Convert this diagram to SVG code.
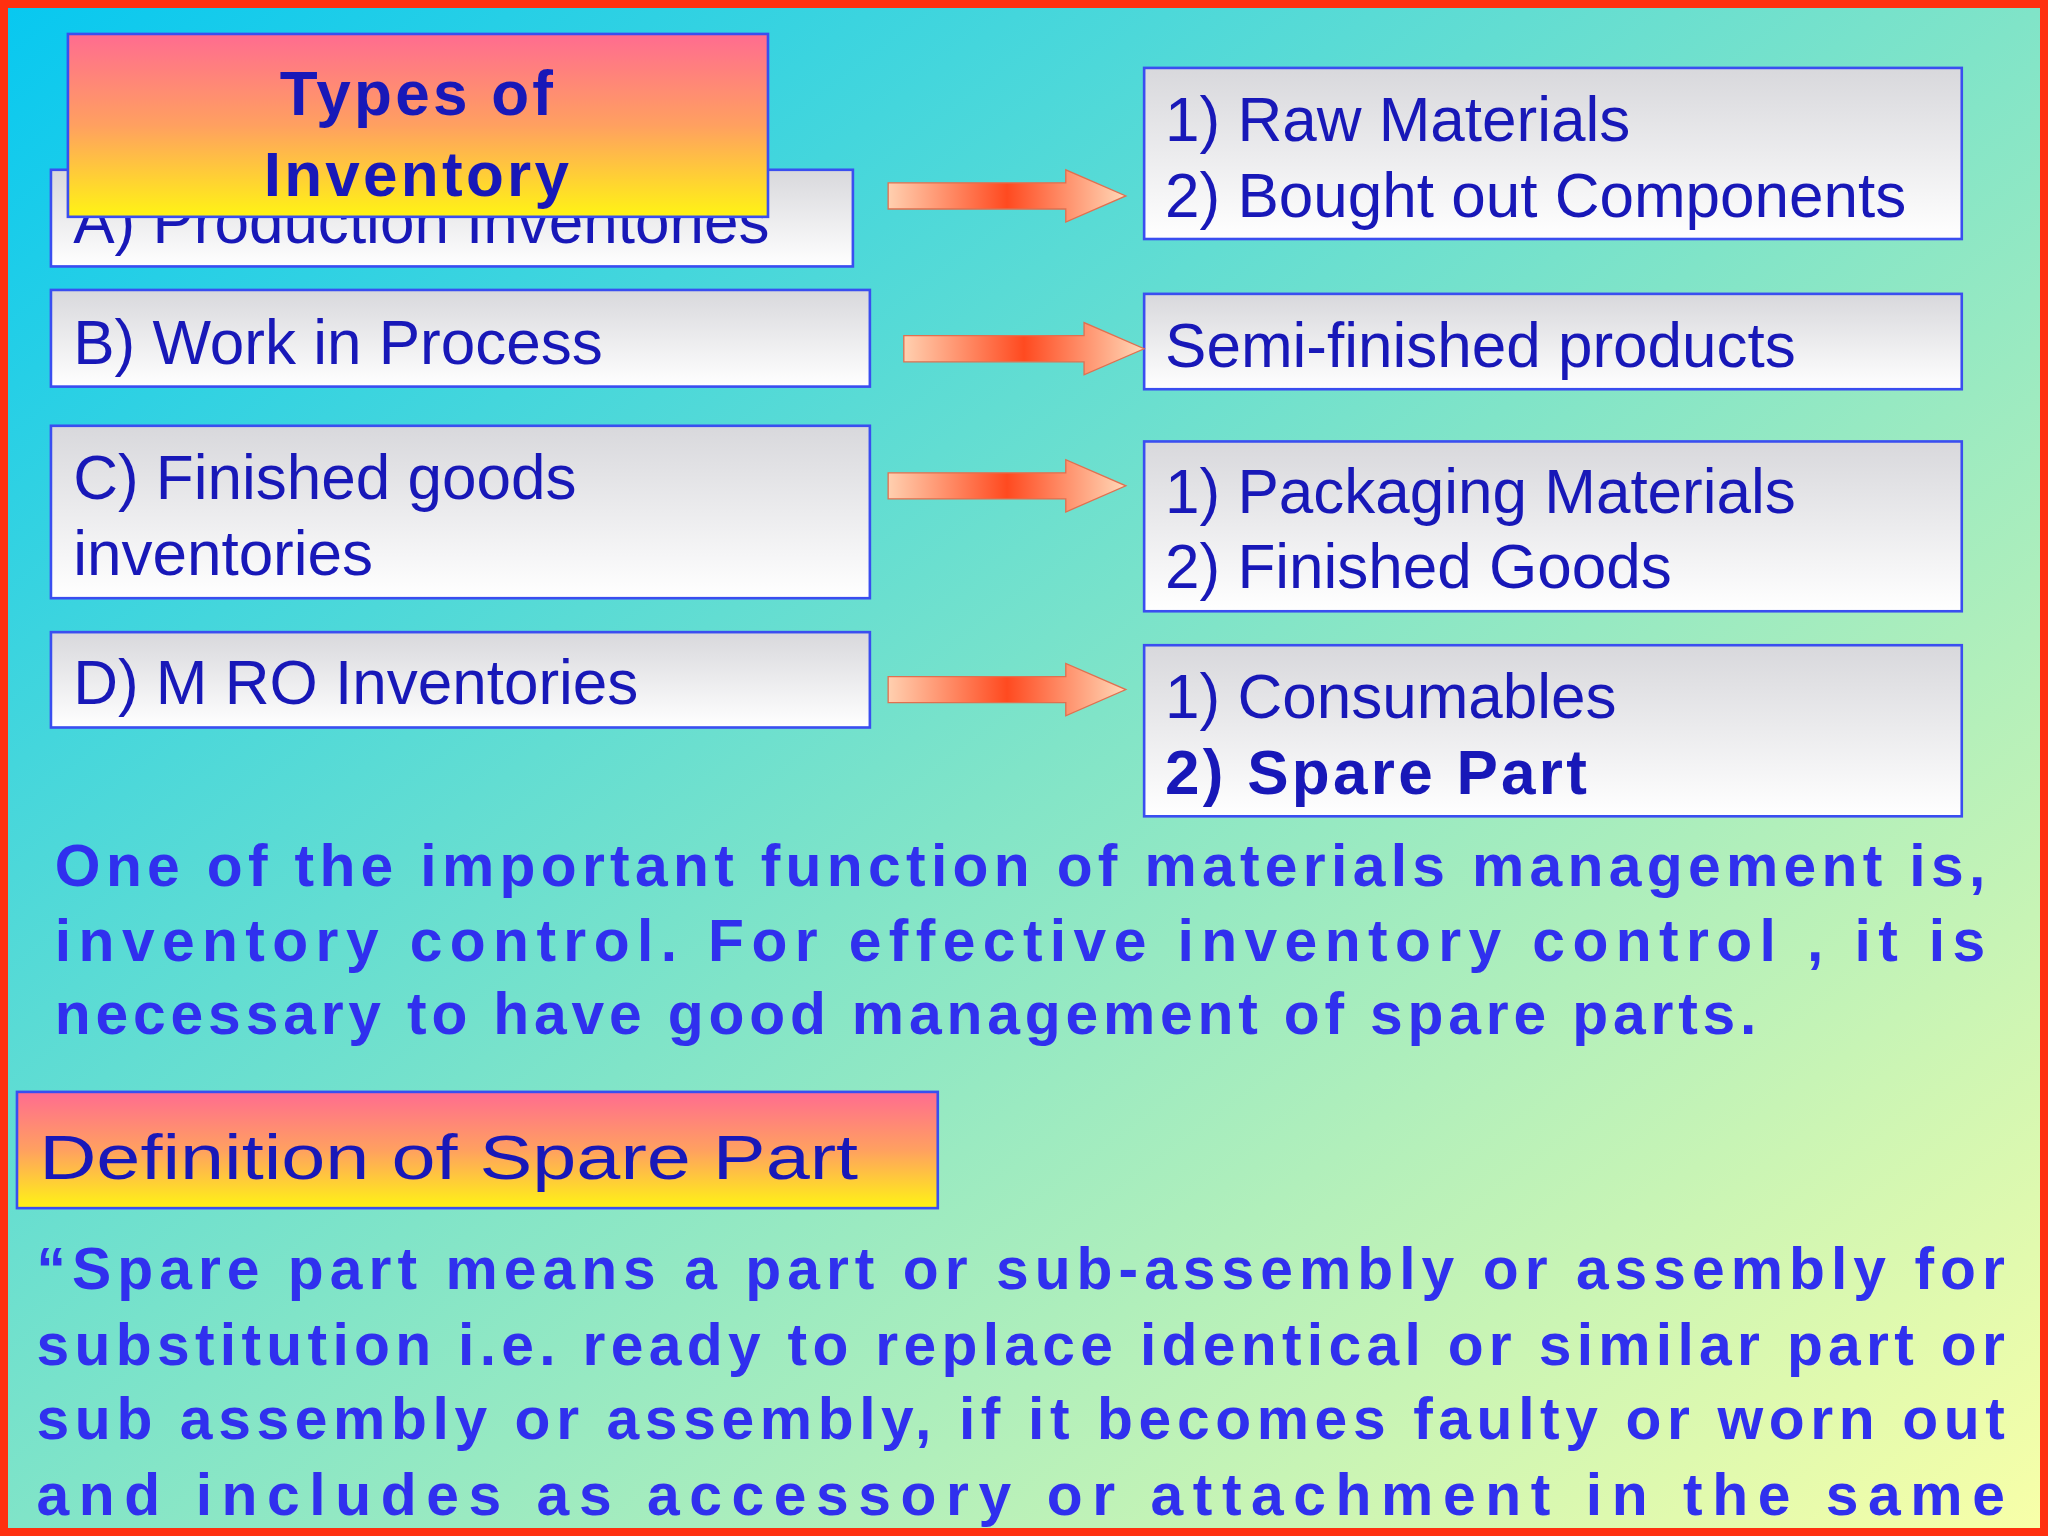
<svg xmlns="http://www.w3.org/2000/svg" width="2048" height="1536" viewBox="0 0 2048 1536">
<defs>
<linearGradient id="bg" x1="0" y1="0" x2="1" y2="1"><stop offset="0" stop-color="#08c8f0"/><stop offset="0.5" stop-color="#80e4c8"/><stop offset="1" stop-color="#f8ffa8"/></linearGradient>
<linearGradient id="hdr" x1="0" y1="0" x2="0" y2="1"><stop offset="0" stop-color="#ff6c90"/><stop offset="0.5" stop-color="#ffa060"/><stop offset="1" stop-color="#fff414"/></linearGradient>
<linearGradient id="box" x1="0" y1="0" x2="0" y2="1"><stop offset="0" stop-color="#d8d8dc"/><stop offset="1" stop-color="#ffffff"/></linearGradient>
<linearGradient id="arr" x1="0" y1="0" x2="1" y2="0"><stop offset="0" stop-color="#ffd0b0"/><stop offset="0.5" stop-color="#ff4a20"/><stop offset="1" stop-color="#ffd8b8"/></linearGradient>
<style>
.bx{fill:url(#box);stroke:#3a4ef0;stroke-width:2}
.hd{fill:url(#hdr);stroke:#3a4ef0;stroke-width:2}
.t{font-family:"Liberation Sans",Arial,sans-serif;font-size:47.5px;fill:#1818b8}
.p{font-family:"Liberation Sans",Arial,sans-serif;font-size:45px;font-weight:bold;fill:#3030ee}
.ar{fill:url(#arr);stroke:#e07050;stroke-width:1}
</style>
</defs>
<rect x="0" y="0" width="2048" height="1536" fill="#ff3010"/>
<rect x="8" y="8" width="2032" height="1520" fill="url(#bg)"/>
<g transform="scale(1.3061)">
<g id="nodeA"><rect class="bx" x="39" y="130" width="614" height="74"/><text class="t" x="56" y="186">A) Production Inventories</text></g>
<g id="title"><rect class="hd" x="52" y="26" width="536" height="140"/><text class="t" x="320" y="88" text-anchor="middle" font-weight="bold" font-size="56" letter-spacing="2.5" fill="#1414c0">Types of</text><text class="t" x="320" y="150" text-anchor="middle" font-weight="bold" font-size="56" letter-spacing="2.5" fill="#1414c0">Inventory</text></g>
<g id="nodeB"><rect class="bx" x="39" y="222" width="627" height="74"/><text class="t" x="56" y="279">B) Work in Process</text></g>
<g id="nodeC"><rect class="bx" x="39" y="326" width="627" height="132"/><text class="t" x="56" y="382">C) Finished goods</text><text class="t" x="56" y="440">inventories</text></g>
<g id="nodeD"><rect class="bx" x="39" y="484" width="627" height="73"/><text class="t" x="56" y="539">D) M RO Inventories</text></g>
<g id="r1"><rect class="bx" x="876" y="52" width="626" height="131"/><text class="t" x="892" y="108">1) Raw Materials</text><text class="t" x="892" y="166">2) Bought out Components</text></g>
<g id="r2"><rect class="bx" x="876" y="225" width="626" height="73"/><text class="t" x="892" y="281">Semi-finished products</text></g>
<g id="r3"><rect class="bx" x="876" y="338" width="626" height="130"/><text class="t" x="892" y="393">1) Packaging Materials</text><text class="t" x="892" y="450">2) Finished Goods</text></g>
<g id="r4"><rect class="bx" x="876" y="494" width="626" height="131"/><text class="t" x="892" y="608" font-weight="bold" letter-spacing="2.5">2) Spare Part</text><text class="t" x="892" y="550">1) Consumables</text></g>
<g id="connectors">
<path class="ar" d="M680 140 H816 V130 L862 150 L816 170 V160 H680 Z"/>
<path class="ar" d="M692 257 H830 V247 L876 267 L830 287 V277 H692 Z"/>
<path class="ar" d="M680 362 H816 V352 L862 372 L816 392 V382 H680 Z"/>
<path class="ar" d="M680 518 H816 V508 L862 528 L816 548 V538 H680 Z"/>
</g>
<g id="para1">
<text class="p" x="42" y="678" textLength="1478" lengthAdjust="spacing">One of the important function of materials management is,</text>
<text class="p" x="42" y="736" textLength="1478" lengthAdjust="spacing">inventory control. For effective inventory control , it is</text>
<text class="p" x="42" y="792" letter-spacing="3.7">necessary to have good management of spare parts.</text>
</g>
<g id="def"><rect class="hd" x="13" y="836" width="705" height="89"/><text class="t" x="30" y="903" font-size="62" textLength="627" lengthAdjust="spacingAndGlyphs">Definition of Spare Part</text></g>
<g id="para2">
<text class="p" x="28" y="987" textLength="1507" lengthAdjust="spacing">“Spare part means a part or sub-assembly or assembly for</text>
<text class="p" x="28" y="1045" textLength="1507" lengthAdjust="spacing">substitution i.e. ready to replace identical or similar part or</text>
<text class="p" x="28" y="1102" textLength="1507" lengthAdjust="spacing">sub assembly or assembly, if it becomes faulty or worn out</text>
<text class="p" x="28" y="1160" textLength="1507" lengthAdjust="spacing">and includes as accessory or attachment in the same</text>
</g>
</g>
<rect x="0" y="1528" width="2048" height="8" fill="#ff3010"/>
</svg>
